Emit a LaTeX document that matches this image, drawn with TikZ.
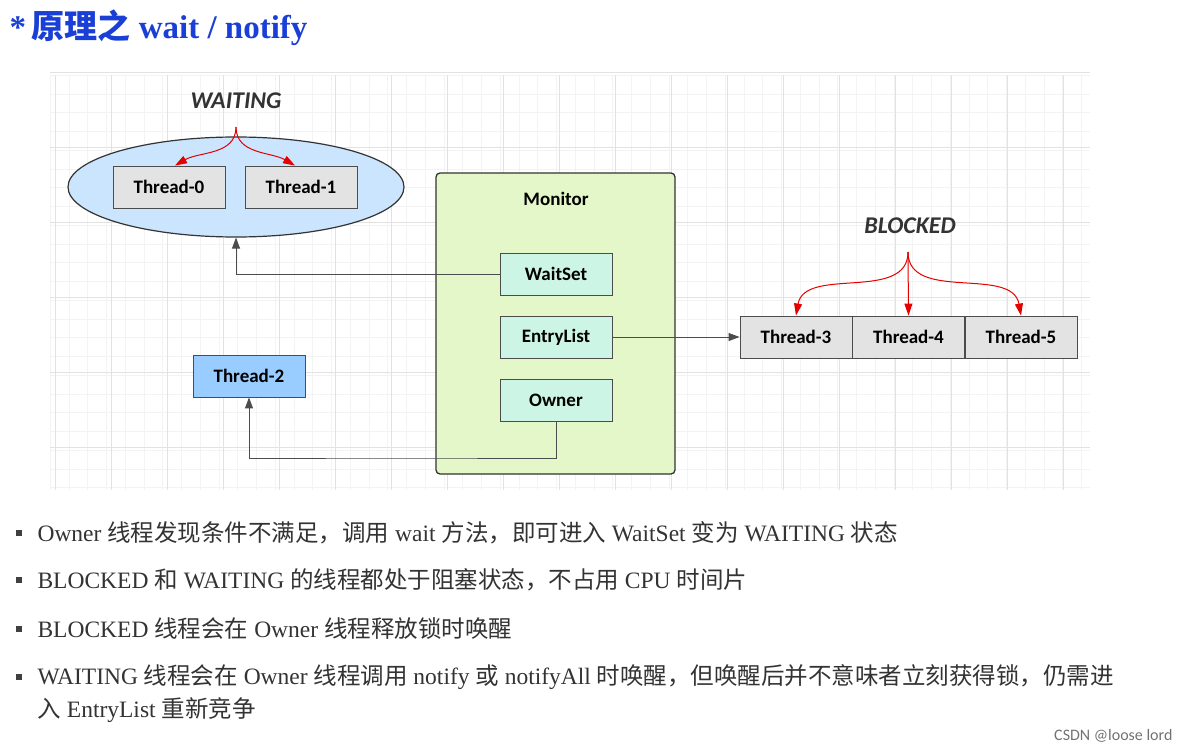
\documentclass[tikz,border=0pt]{standalone}
\usepackage{fontspec}
\setmainfont{Liberation Serif}
\newfontfamily\cjk{Noto Sans CJK SC}
\newfontfamily\sansf{Carlito}
\usetikzlibrary{arrows.meta,shapes.geometric}
\definecolor{gridc}{HTML}{F3F3F3}
\definecolor{gridm}{HTML}{E2E2E2}
\definecolor{mon}{HTML}{E4F7C8}
\definecolor{mint}{HTML}{CDF5E6}
\definecolor{grayb}{HTML}{E3E3E3}
\definecolor{blueb}{HTML}{99CCFF}
\definecolor{ell}{HTML}{CCE5FF}
\definecolor{titleb}{HTML}{1A3FD6}
\begin{document}
\begin{tikzpicture}[x=1pt,y=-1pt,
  box/.style={draw=black!70,line width=0.9pt,minimum width=112pt,minimum height=42pt,inner sep=0pt,font=\sansf\bfseries\fontsize{19}{21}\selectfont},
  conn/.style={draw=black!70,line width=1pt,-{Triangle[length=11pt,width=8pt]}},
  red/.style={draw=red!90!black,line width=1pt,-{Triangle[length=12pt,width=8pt]}},
  lbl/.style={font=\sansf\bfseries\itshape\fontsize{24}{26}\selectfont,text=black!80},
  bul/.style={anchor=west,font=\fontsize{23.5}{26}\selectfont,text=black!80}]
\useasboundingbox[fill=white] (0,0) rectangle (1189,752);
% grid
\foreach \x in {50,68.75,...,1090} \draw[gridc,line width=0.5pt] (\x,75) -- (\x,490);
\foreach \y in {75,93.75,...,490} \draw[gridc,line width=0.5pt] (50,\y) -- (1090,\y);
\foreach \x in {55,111,...,1090} \draw[gridm,line width=0.7pt] (\x,75) -- (\x,490);
\foreach \y in {72,147,...,490} \draw[gridm,line width=0.7pt] (50,\y) -- (1090,\y);
% title
\node[anchor=west,text=titleb,font=\bfseries\fontsize{33}{35}\selectfont] (title) at (6,28) {*\,{\cjk\bfseries 原理之} wait / notify};
% waiting
\node[ellipse,draw=black!80,line width=1.2pt,fill=ell,minimum width=336pt,minimum height=100pt] (ell) at (236,187) {};
\node[box,fill=grayb] (t0) at (169,187) {Thread-0};
\node[box,fill=grayb] (t1) at (301,187) {Thread-1};
\node[lbl] (waiting) at (236,101) {WAITING};
\coordinate (wf) at (236,127);
\draw[red] (wf) to[out=-90,in=30] ([xshift=6pt]t0.north);
\draw[red] (wf) to[out=-90,in=150] ([xshift=-6pt]t1.north);
% monitor
\node[draw=black!80,line width=1.3pt,fill=mon,rounded corners=4pt,minimum width=239pt,minimum height=301pt,inner sep=0pt] (mon) at (555.5,323.5) {};
\node[font=\sansf\bfseries\fontsize{19}{21}\selectfont] (montxt) at (556,199) {Monitor};
\node[box,fill=mint] (ws) at (556,274) {WaitSet};
\node[box,fill=mint] (el) at (556,337) {EntryList};
\node[box,fill=mint] (ow) at (556,400) {Owner};
% blocked
\node[box,fill=grayb] (t3) at (796,337) {Thread-3};
\node[box,fill=grayb] (t4) at (908.5,337) {Thread-4};
\node[box,fill=grayb] (t5) at (1021,337) {Thread-5};
\node[lbl] (blocked) at (910,226) {BLOCKED};
\coordinate (bf) at (908,252);
\draw[red] (bf) to[out=-90,in=80] (t3.north);
\draw[red] (bf) -- (t4.north);
\draw[red] (bf) to[out=-90,in=100] (t5.north);
% thread-2
\node[box,fill=blueb] (t2) at (249,376) {Thread-2};
% connectors
\draw[conn] (ws.west) -| (ell.south);
\draw[conn] (el.east) -- (t3.west);
\draw[conn] (ow.south) |- (400,458) -| (t2.south);
% bullets
\foreach \y in {533,580,629,677} \fill[black!75] (16,\y-3) rectangle (22,\y+3);
\node[bul] (b1) at (34,533) {Owner {\cjk 线程发现条件不满足，调用} wait {\cjk 方法，即可进入} WaitSet {\cjk 变为} WAITING {\cjk 状态}};
\node[bul] (b2) at (34,580) {BLOCKED {\cjk 和} WAITING {\cjk 的线程都处于阻塞状态，不占用} CPU {\cjk 时间片}};
\node[bul] (b3) at (34,629) {BLOCKED {\cjk 线程会在} Owner {\cjk 线程释放锁时唤醒}};
\node[bul] (b4) at (34,677) {WAITING {\cjk 线程会在} Owner {\cjk 线程调用} notify {\cjk 或} notifyAll {\cjk 时唤醒，但唤醒后并不意味者立刻获得锁，仍需进}};
\node[bul] (b5) at (34,710) {{\cjk 入} EntryList {\cjk 重新竞争}};
\node[anchor=east,text=black!55,font=\sansf\fontsize{16}{18}\selectfont] (wm) at (1176,736) {CSDN @loose lord};
\end{tikzpicture}
\end{document}
